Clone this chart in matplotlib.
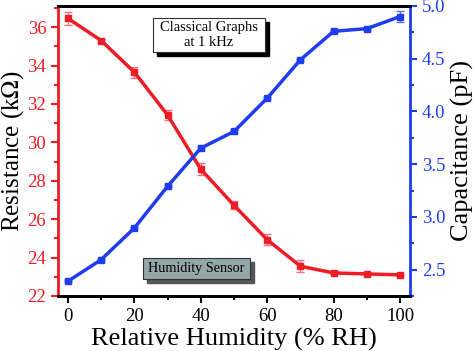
import matplotlib
matplotlib.use("Agg")
import matplotlib.pyplot as plt
from matplotlib.patches import Rectangle
from matplotlib.ticker import MultipleLocator

plt.rcParams['font.family'] = ['Liberation Serif', 'DejaVu Serif']
plt.rcParams['mathtext.fontset'] = 'stix'

rh = [0, 10, 20, 30, 40, 50, 60, 70, 80, 90, 100]
resistance = [36.45, 35.3, 33.65, 31.42, 28.6, 26.72, 24.93, 23.55, 23.2, 23.15, 23.1]
res_err = [0.35, 0.08, 0.28, 0.25, 0.3, 0.2, 0.3, 0.3, 0.08, 0.05, 0.05]
capacitance = [2.39, 2.595, 2.895, 3.29, 3.652, 3.81, 4.126, 4.49, 4.76, 4.785, 4.90]
cap_err = [0.01, 0.01, 0.01, 0.01, 0.01, 0.01, 0.01, 0.01, 0.01, 0.01, 0.05]

red = '#ee1c24'
blue = '#1f3cf0'

fig = plt.figure(figsize=(4.74, 3.51), dpi=100)
ax = fig.add_axes([0.1224, 0.1567, 0.7426, 0.8263])
ax2 = ax.twinx()

ax.errorbar(rh, resistance, yerr=res_err, color=red, lw=2.5, marker='s', ms=5,
            ecolor='#f07080', elinewidth=1, capsize=3, capthick=1, zorder=3)
ax2.errorbar(rh, capacitance, yerr=cap_err, color=blue, lw=2.5, marker='s', ms=5,
             ecolor='#6070f0', elinewidth=1, capsize=3, capthick=1, zorder=3)

ax.set_xlim(-3, 103)
ax.set_ylim(22, 37.1)
ax2.set_ylim(2.25, 5.0)

ax.xaxis.set_major_locator(MultipleLocator(20))
ax.xaxis.set_minor_locator(MultipleLocator(10))
ax.yaxis.set_major_locator(MultipleLocator(2))
ax.yaxis.set_minor_locator(MultipleLocator(1))
ax2.yaxis.set_major_locator(MultipleLocator(0.5))
ax2.yaxis.set_minor_locator(MultipleLocator(0.25))
ax2.yaxis.set_major_formatter(matplotlib.ticker.FormatStrFormatter('%.1f'))

for a in (ax, ax2):
    for s in a.spines.values():
        s.set_linewidth(2)
ax.spines['left'].set_color(red)
ax2.spines['left'].set_visible(False)
ax2.spines['right'].set_color(blue)
ax.spines['right'].set_visible(False)

ax.tick_params(axis='x', which='both', direction='out', top=False, labelsize=13.5, width=1.5, colors='black')
ax.tick_params(axis='x', which='major', length=5)
ax.tick_params(axis='x', which='minor', length=3)
ax.tick_params(axis='y', which='both', direction='out', colors=red, labelsize=13.5, width=1.5)
ax.tick_params(axis='y', which='major', length=5)
ax.tick_params(axis='y', which='minor', length=3)
ax2.tick_params(axis='y', which='both', direction='out', colors=blue, labelsize=13.5, width=1.5)
ax2.tick_params(axis='y', which='major', length=5)
ax2.tick_params(axis='y', which='minor', length=3)

ax.set_xlabel('Relative Humidity (% RH)', fontsize=19, labelpad=2)
ax.set_ylabel('Resistance (k$\\Omega$)', fontsize=18, labelpad=1)
ax2.set_ylabel('Capacitance (pF)', fontsize=19, labelpad=4)

# Text boxes with drop shadows
def shadow_box(a, x, y, w, h, face, shadow, text, fs):
    dx, dy = 0.0114, -0.0138
    a.add_patch(Rectangle((x + dx, y + dy), w, h, transform=a.transAxes,
                          facecolor=shadow, edgecolor=shadow, zorder=5, clip_on=False))
    a.add_patch(Rectangle((x, y), w, h, transform=a.transAxes,
                          facecolor=face, edgecolor='#333333', lw=0.8, zorder=6, clip_on=False))
    a.text(x + w / 2, y + h / 2, text, transform=a.transAxes, ha='center', va='center',
           fontsize=fs, zorder=7, linespacing=1.2)

shadow_box(ax2, 0.27, 0.84, 0.318, 0.118, 'white', 'black', 'Classical Graphs\nat 1 kHz', 10.5)
shadow_box(ax2, 0.241, 0.058, 0.305, 0.072, '#93a7a9', '#555555', 'Humidity Sensor', 10.2)

fig.savefig('out.png', dpi=100)
